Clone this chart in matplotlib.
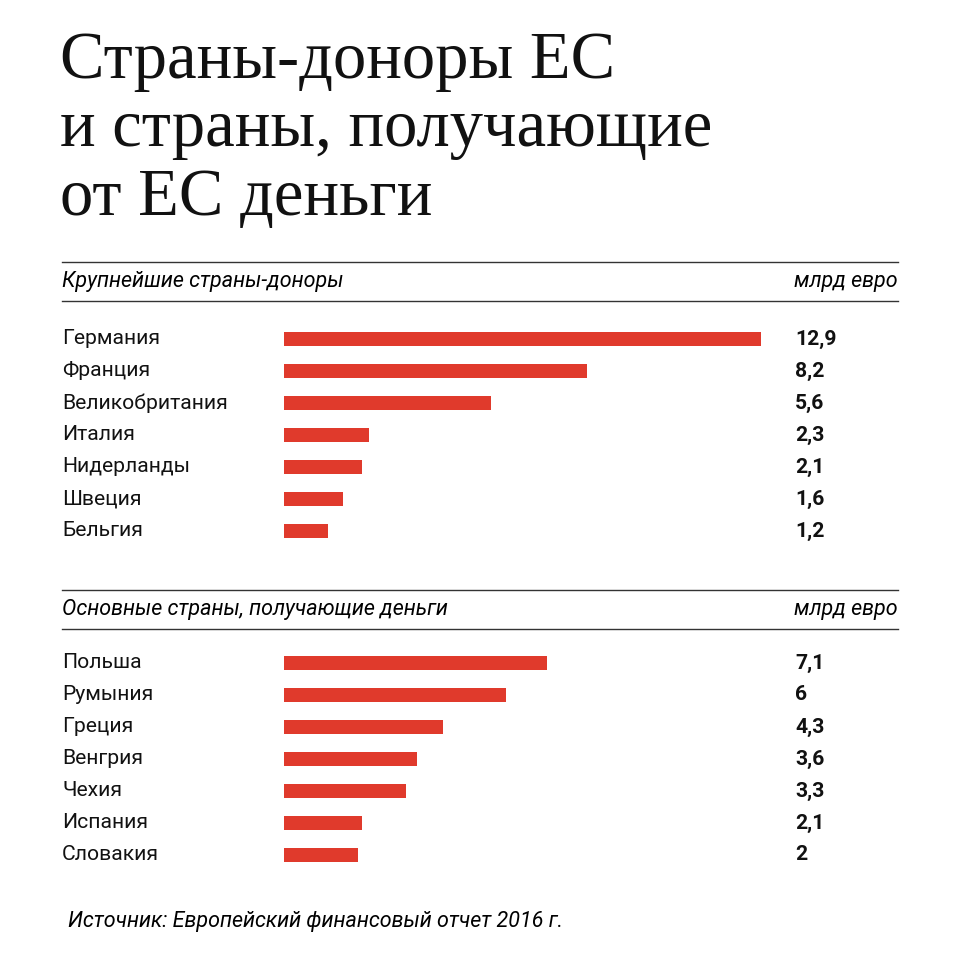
import matplotlib
matplotlib.use("Agg")
import matplotlib.pyplot as plt
from matplotlib import transforms

title_lines = ["Страны-доноры ЕС", "и страны, получающие", "от ЕС деньги"]
donor_header = "Крупнейшие страны-доноры"
recv_header = "Основные страны, получающие деньги"
unit = "млрд евро"
donors = ["Германия", "Франция", "Великобритания", "Италия", "Нидерланды", "Швеция", "Бельгия"]
donor_vals = [12.9, 8.2, 5.6, 2.3, 2.1, 1.6, 1.2]
recv = ["Польша", "Румыния", "Греция", "Венгрия", "Чехия", "Испания", "Словакия"]
recv_vals = [7.1, 6, 4.3, 3.6, 3.3, 2.1, 2]
source = "Источник: Европейский финансовый отчет 2016 г."

W = 966
fig = plt.figure(figsize=(9.66, 9.66), dpi=100)
fig.patch.set_facecolor("white")
def fx(p): return p / W
def fy(p): return 1 - p / W

for i, t in enumerate(title_lines):
    fig.text(fx(60), fy(62 + i * 68), t, family="Liberation Serif", fontsize=48,
             va="center", ha="left", color="#111111")

RED = "#E03A2C"
SANS = "Roboto"

def section(top_line, first, names, vals, header):
    fig.add_artist(plt.Line2D([fx(62), fx(898)], [fy(top_line)] * 2, color="#333", lw=1))
    fig.add_artist(plt.Line2D([fx(62), fx(898)], [fy(top_line + 39)] * 2, color="#333", lw=1))
    fig.text(fx(62), fy(top_line + 19), header, family=SANS, style="italic", fontsize=15.5, va="center")
    fig.text(fx(898), fy(top_line + 19), unit, family=SANS, style="italic", fontsize=15.5, va="center", ha="right")
    ax = fig.add_axes([fx(284), fy(first - 16 + 7 * 32), 13 * 37 / W, 7 * 32 / W])
    ax.barh(range(len(vals)), vals, height=0.44, color=RED)
    ax.set_xlim(0, 13)
    ax.set_ylim(len(vals) - 0.5, -0.5)
    ax.axis("off")
    tr = transforms.blended_transform_factory(fig.transFigure, ax.transData)
    for i, (n, v) in enumerate(zip(names, vals)):
        ax.text(fx(62), i, n, transform=tr, family=SANS, fontsize=15.2, va="center", ha="left", color="#111")
        ax.text(fx(795), i, f"{v:g}".replace(".", ","), transform=tr, family=SANS, fontsize=15.2,
                fontweight="bold", va="center", ha="left", color="#111")

section(262, 339, donors, donor_vals, donor_header)
section(590, 663, recv, recv_vals, recv_header)
fig.text(fx(68), fy(922), source, family=SANS, style="italic", fontsize=15.5, va="center")
fig.savefig("out.png", dpi=100)
